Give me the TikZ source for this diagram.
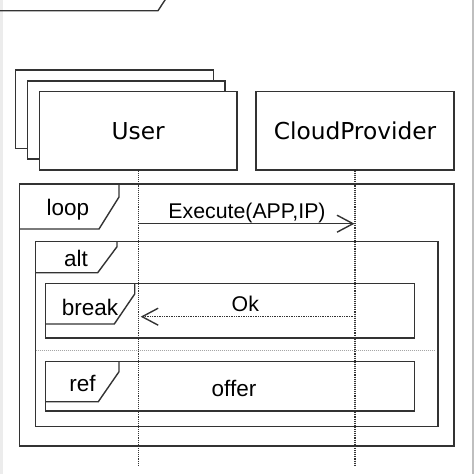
\documentclass[tikz,border=0pt]{standalone}
\usepackage{fontspec}
\setmainfont{Liberation Sans}
\newfontfamily\headfont{DejaVu Sans}
\usetikzlibrary{arrows.meta}
\definecolor{framegray}{HTML}{333333}
\tikzset{
    head/.style={draw=framegray, fill=white, line width=1.4pt, inner sep=0pt,
        minimum width=197.7pt, minimum height=78.3pt,
        font=\headfont\fontsize{23.3}{27}\selectfont},
    frameline/.style={draw=framegray, line width=1.4pt},
    lbl/.style={inner sep=0pt, anchor=base, font=\fontsize{22.5}{26}\selectfont},
    msg/.style={inner sep=0pt, anchor=base, font=\fontsize{21.3}{25}\selectfont},
    lifeline/.style={draw=framegray, line width=1.1pt, densely dotted},
    call/.style={draw=framegray, line width=1.4pt, -{Straight Barb[length=16pt,width=17pt]}},
    reply/.style={call, densely dotted}
}
\begin{document}
\begin{tikzpicture}[x=1pt, y=-1pt]
    \useasboundingbox (0,0) rectangle (474,474);
    % page edges
    \draw[gray!15, line width=3pt] (1.5,0)--(1.5,474);
    \draw[gray!50, line width=2.5pt] (472.8,0)--(472.8,474);
    % tab of the enclosing frame, cut by the top
    \draw[frameline] (-2,10.7)--(158,10.7)--(166,-1.5);

    % lifeline heads, the user one is stacked
    \foreach \i in {2,1}{
        \node[head] at (138.2-11.9*\i, 130.85-10.9*\i) {};
    }
    \node[head] (user) at (138.2,130.85) {User};
    \node[head] (cloud) at (355,130.85) {CloudProvider};

    % loop frame
    \draw[frameline] (19.7,184) rectangle (454,446);
    \draw[frameline] (119,184)--(119,197)--(99,229)--(19.7,229);
    \node[lbl] (loop) at (68,215) {loop};

    % alt frame and its two operands
    \draw[frameline] (35.7,241.7) rectangle (438,426.7);
    \draw[frameline] (117,241.7)--(117,246.7)--(97.7,272.7)--(35.7,272.7);
    \node[lbl] (alt) at (76,266) {alt};
    \draw[gray!70, line width=1pt, densely dotted] (35.7,350)--(435,350);

    \draw[frameline] (45.3,283.3) rectangle (414.7,338);
    \draw[frameline] (134.7,283.3)--(134.7,294)--(114.3,324)--(45.3,324);
    \node[lbl] (break) at (90,315) {break};

    \draw[frameline] (45.3,361.7) rectangle (414.7,411);
    \draw[frameline] (119,361.7)--(119,371.7)--(98.3,401.7)--(45.3,401.7);
    \node[lbl] (ref) at (82.5,391.7) {ref};
    \node[lbl] (offer) at (234,396) {offer};

    % lifelines
    \coordinate (userEnd) at (138.2,465);
    \coordinate (cloudEnd) at (355,465);
    \draw[lifeline] (user.south)--(userEnd);
    \draw[lifeline] (cloud.south)--(cloudEnd);

    % messages
    \path (user.south) ++(0,53) coordinate (exeFrom);
    \path (cloud.south) ++(-0.5,53) coordinate (exeTo);
    \draw[call] (exeFrom)--(exeTo);
    \node[msg] (exeLabel) at (247,218.5) {Execute(APP,IP)};

    \path (cloud.south) ++(0,146) coordinate (okFrom);
    \path (user.south) ++(2.5,146) coordinate (okTo);
    \draw[reply] (okFrom)--(okTo);
    \node[msg] (okLabel) at (245.3,311.7) {Ok};
\end{tikzpicture}
\end{document}
